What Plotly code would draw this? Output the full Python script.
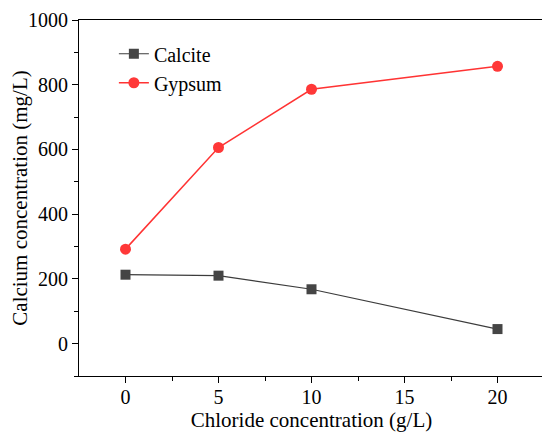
import plotly.graph_objects as go

chloride = [0, 5, 10, 20]
calcite = [213, 210, 168, 45]
gypsum = [292, 606, 786, 857]

serif = "Liberation Serif, serif"

fig = go.Figure()
fig.add_trace(go.Scatter(
    x=chloride, y=calcite, name="Calcite", mode="lines+markers",
    line=dict(color="#3c3c3c", width=1.2),
    marker=dict(symbol="square", size=10, color="#454545"),
))
fig.add_trace(go.Scatter(
    x=chloride, y=gypsum, name="Gypsum", mode="lines+markers",
    line=dict(color="#ff3333", width=1.5),
    marker=dict(symbol="circle", size=11, color="#ff3838"),
))

axis_font = dict(family=serif, size=20, color="black")
title_font = dict(family=serif, size=21, color="black")
fig.update_xaxes(
    range=[-2.5, 22.5], tickvals=[0, 5, 10, 15, 20],
    ticks="outside", ticklen=6, tickwidth=1, tickcolor="black",
    minor=dict(tickvals=[2.5, 7.5, 12.5, 17.5], ticks="outside", ticklen=4, tickcolor="black"),
    showline=True, linecolor="black", linewidth=1, mirror=True,
    showgrid=False, zeroline=False, tickfont=axis_font, automargin=False,
    ticklabelstandoff=-3,
    title=dict(text="Chloride concentration (g/L)", font=title_font, standoff=0),
)
fig.update_yaxes(
    range=[-100, 1000], tickvals=[0, 200, 400, 600, 800, 1000],
    ticks="outside", ticklen=6, tickwidth=1, tickcolor="black",
    minor=dict(tickvals=[-100, 100, 300, 500, 700, 900], ticks="outside", ticklen=4, tickcolor="black"),
    showline=True, linecolor="black", linewidth=1, mirror=True,
    showgrid=False, zeroline=False, tickfont=axis_font, automargin=False,
    title=dict(text="Calcium concentration (mg/L)", font=title_font, standoff=4),
)
# page body adds an 8px offset, so the figure is a bit smaller than the window
fig.update_layout(
    width=542, height=428,
    margin=dict(l=71, r=6, t=12, b=60),
    font=dict(family=serif, color="black"),
    paper_bgcolor="white", plot_bgcolor="white",
    legend=dict(x=0.075, y=0.96, xanchor="left", yanchor="top",
                font=dict(family=serif, size=20, color="black"),
                bgcolor="rgba(0,0,0,0)", tracegroupgap=0),
    showlegend=True,
)
fig.write_html("out.html")
